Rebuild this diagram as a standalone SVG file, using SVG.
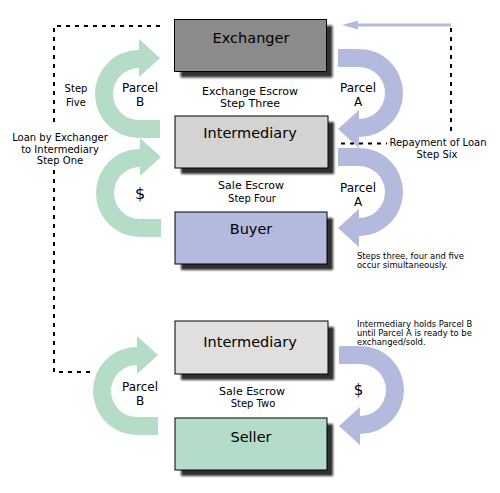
<svg xmlns="http://www.w3.org/2000/svg" width="500" height="493" viewBox="0 0 500 493">
<style>
text{font-family:"DejaVu Sans","Noto Sans",sans-serif;fill:#000}
.t{font-size:14.5px;text-anchor:middle}
.m{font-size:11px;text-anchor:middle}
.s{font-size:10px;text-anchor:middle}
.p{font-size:12px;text-anchor:middle}
.d{font-size:16px;text-anchor:middle}
.n{font-size:8.4px}
.box{stroke:#000;stroke-width:1}
.sh{fill:#111;opacity:.85;filter:url(#blur)}
.dash{fill:none;stroke:#000;stroke-width:2;stroke-dasharray:4 5}
.g{fill:#b4dcc7}
.b{fill:#b4b9de}
</style>
<defs>
<filter id="blur" x="-10%" y="-20%" width="120%" height="140%"><feGaussianBlur stdDeviation="1.1"/></filter>
<path id="arc" d="M21,44 H0 A44,44 0 0 1 0,-44 V-55 L21,-36 L0,-17 V-26 A26,26 0 0 0 0,26 H21 Z"/>
</defs>

<g id="arrows">
<use href="#arc" class="g" transform="translate(139,94)"/>
<use href="#arc" class="g" transform="translate(140,193)"/>
<use href="#arc" class="g" transform="translate(137,391)"/>
<use href="#arc" class="b" transform="translate(359,93) rotate(180)"/>
<use href="#arc" class="b" transform="translate(359,192) rotate(180)"/>
<use href="#arc" class="b" transform="translate(360,390) rotate(180)"/>
</g>

<g id="connectors">
<path class="dash" d="M160,26 H54 V127"/>
<path class="dash" d="M54,170 V372 H90"/>
<path class="dash" d="M451,28 V136"/>
<path class="dash" d="M341,143.5 H387"/>
<path d="M451,25 H355" fill="none" stroke="#b4b9de" stroke-width="3"/>
<polygon points="342,25 358,20.5 358,29.5" fill="#b4b9de"/>
</g>

<g id="exchanger">
<rect class="sh" x="180.5" y="25.5" width="152" height="52"/>
<rect class="box" x="174.5" y="19.5" width="152" height="52" fill="#8d8b8a"/>
<text class="t" x="251" y="43">Exchanger</text>
</g>
<g id="intermediary-top">
<rect class="sh" x="181" y="122" width="153" height="52"/>
<rect class="box" x="175" y="116" width="153" height="52" fill="#d4d3d1"/>
<text class="t" x="250" y="138">Intermediary</text>
</g>
<g id="buyer">
<rect class="sh" x="181" y="218" width="152" height="52"/>
<rect class="box" x="175" y="212" width="152" height="52" fill="#b4b9de"/>
<text class="t" x="251" y="234">Buyer</text>
</g>
<g id="intermediary-bottom">
<rect class="sh" x="181" y="327" width="153" height="53"/>
<rect class="box" x="175" y="321" width="153" height="53" fill="#e0dfde"/>
<text class="t" x="250" y="347">Intermediary</text>
</g>
<g id="seller">
<rect class="sh" x="181" y="424" width="152" height="52"/>
<rect class="box" x="175" y="418" width="152" height="52" fill="#b5dcc8"/>
<text class="t" x="251" y="442">Seller</text>
</g>

<g id="labels">
<text class="m" x="250" y="95">Exchange Escrow</text>
<text class="m" x="250" y="107">Step Three</text>
<text class="m" x="251" y="189">Sale Escrow</text>
<text class="s" x="252" y="202">Step Four</text>
<text class="m" x="252" y="395">Sale Escrow</text>
<text class="s" x="253" y="407">Step Two</text>
<text class="s" x="76" y="92">Step</text>
<text class="s" x="76" y="106">Five</text>
<text class="s" x="60" y="141">Loan by Exchanger</text>
<text class="s" x="60" y="153">to Intermediary</text>
<text class="s" x="60" y="164">Step One</text>
<text class="p" x="140" y="92">Parcel</text>
<text class="p" x="140" y="106">B</text>
<text class="d" x="140" y="199">$</text>
<text class="p" x="358" y="92">Parcel</text>
<text class="p" x="358" y="106">A</text>
<text class="p" x="358" y="192">Parcel</text>
<text class="p" x="358" y="206">A</text>
<text class="p" x="140" y="391">Parcel</text>
<text class="p" x="140" y="405">B</text>
<text class="d" x="358.5" y="395" style="font-size:15px">$</text>
<text class="s" x="438" y="146">Repayment of Loan</text>
<text class="s" x="437" y="158">Step Six</text>
<text class="n" x="357" y="259">Steps three, four and five</text>
<text class="n" x="357" y="268">occur simultaneously.</text>
<text class="n" x="357" y="327">Intermediary holds Parcel B</text>
<text class="n" x="357" y="336">until Parcel A is ready to be</text>
<text class="n" x="357" y="345">exchanged/sold.</text>
</g>
</svg>
